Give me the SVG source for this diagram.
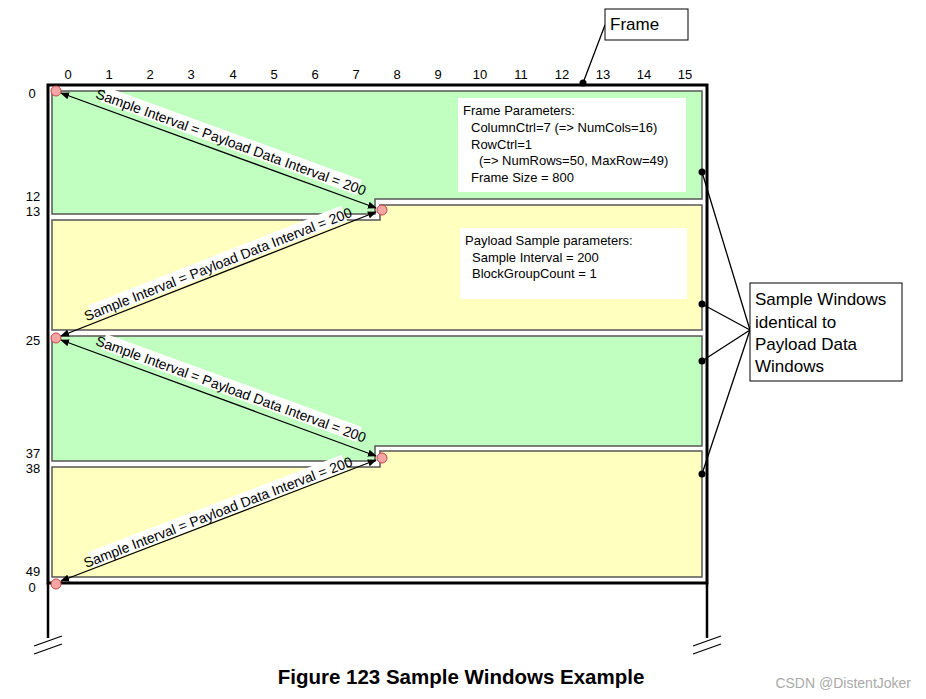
<svg xmlns="http://www.w3.org/2000/svg" width="926" height="699" viewBox="0 0 926 699">
<style>
text{font-family:"Liberation Sans",Arial,sans-serif;fill:#000}
.n{font-size:13px}
.g{fill:#c0ffc0;stroke:#555;stroke-width:1.5}
.y{fill:#ffffc0;stroke:#555;stroke-width:1.5}
.c{fill:#f4a6a6;stroke:#c44;stroke-width:1}
.l{stroke:#000;stroke-width:1.3;fill:none}
.leg{stroke:#000;stroke-width:2.5;fill:none}
.d{fill:#000}
.lab{font-size:14px}
</style>
<defs>
<marker id="a" viewBox="0 0 10 10" refX="9" refY="5" markerWidth="9" markerHeight="9" orient="auto-start-reverse" markerUnits="userSpaceOnUse"><path d="M0,1 L10,5 L0,9 Z" fill="#000"/></marker>
</defs>
<rect width="926" height="699" fill="#fff"/>
<g id="frame">
<rect x="48" y="85" width="659" height="498" fill="#fff" stroke="#000" stroke-width="3"/>
<path class="leg" d="M48,583 V638 M707,583 V638"/>
<path class="l" d="M34,646 L62,636 M34,654 L62,644 M693,646 L721,636 M693,654 L721,644"/>
</g>
<g id="cols" class="n">
<text x="68" y="79" text-anchor="middle">0</text><text x="109" y="79" text-anchor="middle">1</text><text x="150" y="79" text-anchor="middle">2</text><text x="191" y="79" text-anchor="middle">3</text><text x="233" y="79" text-anchor="middle">4</text><text x="274" y="79" text-anchor="middle">5</text><text x="315" y="79" text-anchor="middle">6</text><text x="356" y="79" text-anchor="middle">7</text><text x="397" y="79" text-anchor="middle">8</text><text x="438" y="79" text-anchor="middle">9</text><text x="480" y="79" text-anchor="middle">10</text><text x="521" y="79" text-anchor="middle">11</text><text x="562" y="79" text-anchor="middle">12</text><text x="603" y="79" text-anchor="middle">13</text><text x="644" y="79" text-anchor="middle">14</text><text x="685" y="79" text-anchor="middle">15</text>
</g>
<g id="rows" class="n" text-anchor="middle">
<text x="32" y="98">0</text><text x="33" y="201">12</text><text x="33" y="216">13</text><text x="33" y="345">25</text><text x="33" y="458">37</text><text x="33" y="473">38</text><text x="33" y="576">49</text><text x="32" y="592">0</text>
</g>
<g id="win1"><path class="g" d="M52,91 H702 V199 H375 V214 H52 Z"/></g>
<g id="win2"><path class="y" d="M52,220 H380 V205 H702 V330 H52 Z"/></g>
<g id="win3"><path class="g" d="M52,336 H702 V446 H375 V461 H52 Z"/></g>
<g id="win4"><path class="y" d="M52,467 H380 V451 H702 V577 H52 Z"/></g>
<g id="fp">
<rect x="458" y="98" width="228" height="94" fill="#fff"/>
<text class="n" x="463" y="115">Frame Parameters:</text>
<text class="n" x="471" y="132">ColumnCtrl=7 (=&gt; NumCols=16)</text>
<text class="n" x="471" y="149">RowCtrl=1</text>
<text class="n" x="479" y="165">(=&gt; NumRows=50, MaxRow=49)</text>
<text class="n" x="471" y="182">Frame Size = 800</text>
</g>
<g id="ps">
<rect x="460" y="228" width="227" height="71" fill="#fff"/>
<text class="n" x="465" y="245">Payload Sample parameters:</text>
<text class="n" x="472" y="262">Sample Interval = 200</text>
<text class="n" x="472" y="278">BlockGroupCount = 1</text>
</g>
<g id="connectors">
<line class="l" x1="61" y1="93" x2="376" y2="208" marker-start="url(#a)" marker-end="url(#a)"/>
<line class="l" x1="376" y1="212" x2="61" y2="336" marker-start="url(#a)" marker-end="url(#a)"/>
<line class="l" x1="61" y1="340" x2="376" y2="456" marker-start="url(#a)" marker-end="url(#a)"/>
<line class="l" x1="376" y1="460" x2="61" y2="581" marker-start="url(#a)" marker-end="url(#a)"/>
<path class="l" d="M605,25 L583,83 M702,172 L750,330 M702,304 L750,330 M702,361 L750,330 M702,474 L750,330"/>
<circle class="d" cx="583" cy="83" r="3.5"/>
<circle class="d" cx="702" cy="172" r="3.5"/><circle class="d" cx="702" cy="304" r="3.5"/><circle class="d" cx="702" cy="361" r="3.5"/><circle class="d" cx="702" cy="474" r="3.5"/>
</g>
<g id="points">
<circle class="c" cx="56" cy="91" r="5"/><circle class="c" cx="382" cy="210" r="5"/><circle class="c" cx="56" cy="338" r="5"/><circle class="c" cx="382" cy="458" r="5"/><circle class="c" cx="56" cy="584" r="5"/>
</g>
<g id="labels" class="lab" text-anchor="middle">
<g transform="translate(231,142) rotate(20)"><rect x="-136" y="-9" width="272" height="16" fill="#fff"/><text y="5">Sample Interval = Payload Data Interval = 200</text></g>
<g transform="translate(218,264) rotate(-21.5)"><rect x="-136" y="-9" width="272" height="16" fill="#fff"/><text y="5">Sample Interval = Payload Data Interval = 200</text></g>
<g transform="translate(231,389) rotate(20)"><rect x="-136" y="-9" width="272" height="16" fill="#fff"/><text y="5">Sample Interval = Payload Data Interval = 200</text></g>
<g transform="translate(218,512) rotate(-21)"><rect x="-136" y="-9" width="272" height="16" fill="#fff"/><text y="5">Sample Interval = Payload Data Interval = 200</text></g>
</g>
<g id="frameCallout">
<rect x="605" y="9" width="83" height="31" fill="#fff" stroke="#000"/>
<text x="610" y="30" font-size="17">Frame</text>
</g>
<g id="swCallout">
<rect x="750" y="283" width="152" height="98" fill="#fff" stroke="#000"/>
<text x="755" y="305" font-size="17">Sample Windows</text>
<text x="755" y="328" font-size="17">identical to</text>
<text x="755" y="350" font-size="17">Payload Data</text>
<text x="755" y="372" font-size="17">Windows</text>
</g>
<text x="461" y="684" text-anchor="middle" font-size="20.5" font-weight="bold">Figure 123 Sample Windows Example</text>
<text x="911" y="688" text-anchor="end" font-size="14" style="fill:#aaa">CSDN @DistentJoker</text>
</svg>
